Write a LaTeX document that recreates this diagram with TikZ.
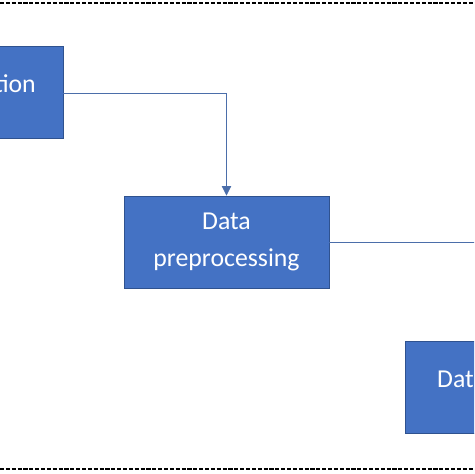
\documentclass[tikz,border=0pt]{standalone}
\usepackage{fontspec}
\setmainfont{Carlito}
\definecolor{boxblue}{RGB}{68,114,196}
\definecolor{boxedge}{RGB}{47,82,143}
\definecolor{linkblue}{RGB}{75,110,170}
\usetikzlibrary{arrows.meta}

\begin{document}
\begin{tikzpicture}[
  x=0.03cm, y=-0.03cm,
  every node/.style={font=\fontsize{22}{31}\selectfont, text=white},
  stage/.style={draw=boxedge, line width=0.8pt, fill=boxblue, minimum width=6.15cm, minimum height=2.76cm, align=center},
  link/.style={draw=linkblue, line width=0.7pt},
  sep/.style={draw=black, line width=1.4pt, dash pattern=on 3.5pt off 1.5pt}
]
  \useasboundingbox (0,0) rectangle (474,474);
  \clip (0,0) rectangle (474,474);
  \draw[sep] (0,3) -- (474,3);
  \draw[sep] (0,469) -- (474,469);
  % stages
  \node[stage] (collect) at (-39.5,92.5) {};
  \node[anchor=east, inner sep=0pt] (collecttxt) at (36,84) {tion};
  \node[stage] (prep) at (226.5,242) {Data\\preprocessing};
  \node[stage] (next) at (507.5,387.5) {};
  \node[anchor=west, inner sep=0pt] (nexttxt) at (437,379) {Dat};
  \coordinate (out) at (480,242);
  % links
  \draw[link, -{Triangle[length=8pt, width=8pt]}] (collect.east |- 0,93) -| (prep.north);
  \draw[link] (prep.east) -- (out);
\end{tikzpicture}
\end{document}
